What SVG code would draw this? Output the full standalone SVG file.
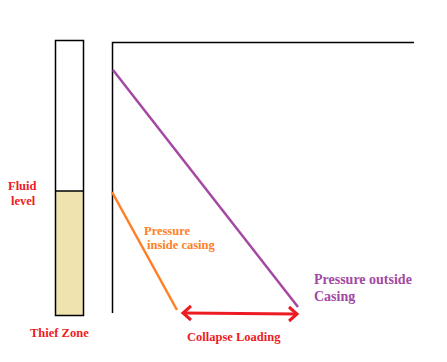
<svg xmlns="http://www.w3.org/2000/svg" width="447" height="362" viewBox="0 0 447 362">
<style>
.t{font-family:'Liberation Serif','DejaVu Serif',serif;font-weight:bold}
.red{fill:#ED1C24;font-size:12.5px}
.org{fill:#FF7F27;font-size:12.5px}
.pur{fill:#A349A4;font-size:14px}
.ax{stroke:#000;stroke-width:1.5;fill:none}
</style>
<rect width="447" height="362" fill="#fff"/>
<g id="column">
<rect x="55.5" y="191" width="28" height="124.5" fill="#EFE4B0"/>
<rect x="55.5" y="40.5" width="28" height="275" class="ax"/>
<line x1="55.5" y1="191" x2="83.5" y2="191" class="ax"/>
</g>
<g id="axes">
<path d="M112.5,313 V42.5 H414" class="ax"/>
</g>
<g id="connectors">
<line x1="113" y1="70" x2="298" y2="307" stroke="#A349A4" stroke-width="2.5"/>
<line x1="112" y1="192" x2="177" y2="310" stroke="#FF7F27" stroke-width="2.5"/>
<line x1="184" y1="313" x2="296" y2="314" stroke="#ED1C24" stroke-width="3"/>
<path d="M191,306 L183,313 L191,320" fill="none" stroke="#ED1C24" stroke-width="3"/>
<path d="M289,307 L297,314 L289,321" fill="none" stroke="#ED1C24" stroke-width="3"/>
</g>
<g id="labels" class="t">
<text x="8" y="190" class="red" font-family="Liberation Serif, serif">Fluid</text>
<text x="11" y="205" class="red" font-family="Liberation Serif, serif">level</text>
<text x="30" y="337" class="red" font-family="Liberation Serif, serif">Thief Zone</text>
<text x="144" y="235" class="org" font-family="Liberation Serif, serif">Pressure</text>
<text x="147" y="249" class="org" font-family="Liberation Serif, serif">inside casing</text>
<text x="314" y="284" class="pur" font-family="Liberation Serif, serif">Pressure outside</text>
<text x="314" y="301" class="pur" font-family="Liberation Serif, serif">Casing</text>
<text x="187" y="341" class="red" font-family="Liberation Serif, serif">Collapse Loading</text>
</g>
</svg>
